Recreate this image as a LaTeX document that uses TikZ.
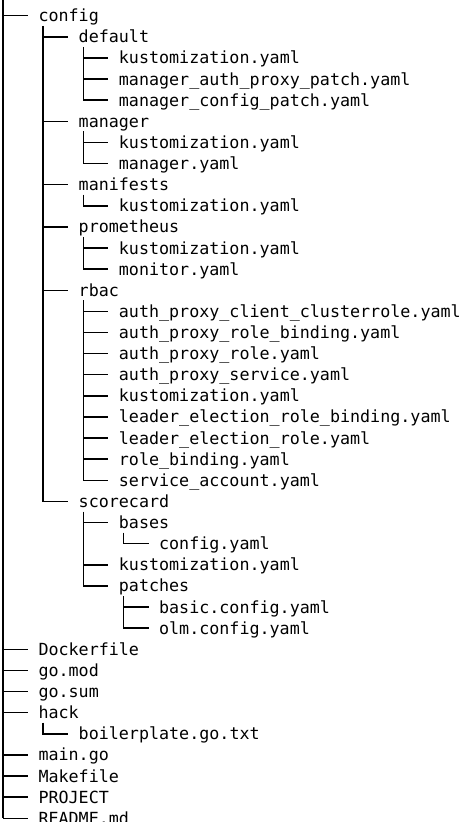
\documentclass[tikz,border=0pt]{standalone}
\usepackage{fontspec}
\setmonofont{DejaVu Sans Mono}
\begin{document}
\begin{tikzpicture}[x=1bp,y=-1bp,
  treeline/.style={line width=1.5bp, line cap=butt},
  item/.style={anchor=base west, inner sep=0pt, outer sep=0pt, font=\ttfamily\fontsize{16.7bp}{20bp}\selectfont, text=black}]
\useasboundingbox (0,0) rectangle (474,822);
\def\p{21.12}
\def\ry{15.7}
% entries: row / level / text
\foreach \r/\l/\t in {
  1/0/config,
  2/1/default,
  3/2/kustomization.yaml,
  4/2/manager\_auth\_proxy\_patch.yaml,
  5/2/manager\_config\_patch.yaml,
  6/1/manager,
  7/2/kustomization.yaml,
  8/2/manager.yaml,
  9/1/manifests,
  10/2/kustomization.yaml,
  11/1/prometheus,
  12/2/kustomization.yaml,
  13/2/monitor.yaml,
  14/1/rbac,
  15/2/auth\_proxy\_client\_clusterrole.yaml,
  16/2/auth\_proxy\_role\_binding.yaml,
  17/2/auth\_proxy\_role.yaml,
  18/2/auth\_proxy\_service.yaml,
  19/2/kustomization.yaml,
  20/2/leader\_election\_role\_binding.yaml,
  21/2/leader\_election\_role.yaml,
  22/2/role\_binding.yaml,
  23/2/service\_account.yaml,
  24/1/scorecard,
  25/2/bases,
  26/3/config.yaml,
  27/2/kustomization.yaml,
  28/2/patches,
  29/3/basic.config.yaml,
  30/3/olm.config.yaml,
  31/0/Dockerfile,
  32/0/go.mod,
  33/0/go.sum,
  34/0/hack,
  35/1/boilerplate.go.txt,
  36/0/main.go,
  37/0/Makefile,
  38/0/PROJECT,
  39/0/README.md}
{
  \node[item] (n\r) at ({38.5+40.2*\l},{\ry+(\r-1)*\p+6}) {\t};
  \coordinate (h\r) at ({3+40.2*\l},{\ry+(\r-1)*\p});
  \draw[treeline] (h\r) -- ++(25,0);
}
% root vertical
\coordinate (top) at (3,-2);
\draw[treeline] (top) -- (3,{\ry+38*\p});
% verticals: parent row / last child row / child level
\foreach \a/\b/\l in {1/24/1, 2/5/2, 6/8/2, 9/10/2, 11/13/2, 14/23/2, 24/28/2, 25/26/3, 28/30/3, 34/35/1}
{
  \draw[treeline] ({3+40.2*\l},{\ry+(\a-1)*\p+\p/2-0.5}) -- ({3+40.2*\l},{\ry+(\b-1)*\p+0.75});
}
\end{tikzpicture}
\end{document}
